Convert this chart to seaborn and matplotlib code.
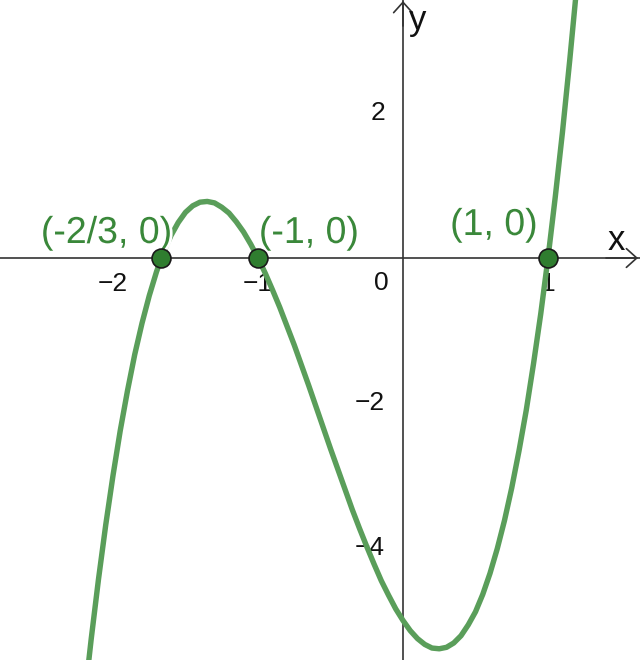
import numpy as np
import pandas as pd
import matplotlib
matplotlib.use("Agg")
import matplotlib.pyplot as plt
import matplotlib.patheffects as pe
import seaborn as sns

# ---- data ----
curve_x = [-2.20, -2.15, -2.10, -2.05, -2.00, -1.95, -1.90, -1.85, -1.80, -1.75,
           -1.70, -1.65, -1.60, -1.55, -1.50, -1.45, -1.40, -1.35, -1.30, -1.25,
           -1.20, -1.15, -1.10, -1.05, -1.00, -0.95, -0.90, -0.85, -0.80, -0.75,
           -0.70, -0.65, -0.60, -0.55, -0.50, -0.45, -0.40, -0.35, -0.30, -0.25,
           -0.20, -0.15, -0.10, -0.05, 0.00, 0.05, 0.10, 0.15, 0.20, 0.25,
           0.30, 0.35, 0.40, 0.45, 0.50, 0.55, 0.60, 0.65, 0.70, 0.75,
           0.80, 0.85, 0.90, 0.95, 1.00, 1.05, 1.10, 1.15, 1.20]
curve_y = [-6.14, -5.25, -4.43, -3.68, -3.00, -2.38, -1.83, -1.33, -0.90, -0.52,
           -0.19, 0.09, 0.31, 0.49, 0.63, 0.72, 0.77, 0.78, 0.76, 0.70,
           0.62, 0.50, 0.36, 0.19, 0.00, -0.21, -0.44, -0.68, -0.94, -1.20,
           -1.48, -1.76, -2.05, -2.34, -2.63, -2.91, -3.19, -3.47, -3.73, -3.98,
           -4.22, -4.45, -4.65, -4.84, -5.00, -5.14, -5.25, -5.33, -5.38, -5.39,
           -5.37, -5.31, -5.21, -5.06, -4.88, -4.64, -4.35, -4.01, -3.62, -3.17,
           -2.66, -2.10, -1.46, -0.77, 0.00, 0.84, 1.74, 2.73, 3.78]

point_x = [-5/3, -1.0, 1.0]
point_y = [0.0, 0.0, 0.0]
point_labels = ["(-2/3, 0)", "(-1, 0)", "(1, 0)"]
label_x = [-2.044, -0.648, 0.628]
label_y = [0.207, 0.207, 0.317]

xtick_vals = [-2, -1, 1]
xtick_labels = ["\u22122", "\u22121", "1"]
ytick_vals = [-4, -2, 2]
ytick_labels = ["\u22124", "\u22122", "2"]

# ---- style ----
sns.set_style("white")
plt.rcParams["font.family"] = ["Liberation Sans", "DejaVu Sans"]

curve_color = "#5a9e5a"
point_color = "#2f7d2f"
text_color = "#3a883a"
axis_color = "#333333"

fig = plt.figure(figsize=(6.4, 6.6), dpi=100)
ax = fig.add_axes([0, 0, 1, 1])

xmin, xmax = -403 / 145, (640 - 403) / 145
ymin, ymax = -(660 - 258) / 72.5, 258 / 72.5
ax.set_xlim(xmin, xmax)
ax.set_ylim(ymin, ymax)

df = pd.DataFrame({"x": curve_x, "y": curve_y})
sns.lineplot(data=df, x="x", y="y", sort=False, ax=ax, color=curve_color,
             linewidth=3.9, zorder=3, solid_capstyle="butt", solid_joinstyle="round")

pts = pd.DataFrame({"x": point_x, "y": point_y})
sns.scatterplot(data=pts, x="x", y="y", ax=ax, s=185, color=point_color,
                edgecolor="#1a1a1a", linewidth=1.2, zorder=5)

# axes through origin
for side in ["top", "right"]:
    ax.spines[side].set_visible(False)
ax.spines["left"].set_position(("data", 0))
ax.spines["bottom"].set_position(("data", 0))
for side in ["left", "bottom"]:
    ax.spines[side].set_color(axis_color)
    ax.spines[side].set_linewidth(1.2)
    ax.spines[side].set_zorder(1)

ax.set_xticks(xtick_vals)
ax.set_xticklabels(xtick_labels)
ax.set_yticks(ytick_vals)
ax.set_yticklabels(ytick_labels)
ax.tick_params(axis="x", direction="out", length=4, width=1.2, color=axis_color,
               labelsize=19, pad=6, labelcolor="#111111")
ax.tick_params(axis="y", direction="out", length=4, width=1.2, color=axis_color,
               labelsize=19, pad=9, labelcolor="#111111")
for lab in ax.get_yticklabels():
    lab.set_verticalalignment("center")
ax.set_xlabel("")
ax.set_ylabel("")

# origin label
ax.text(-0.152, -0.44, "0", fontsize=19, color="#111111", ha="center", va="baseline")

# arrow heads
arrow_style = "->,head_length=0.5,head_width=0.45"
ax.annotate("", xy=(1.621, 0), xytext=(1.4, 0),
            arrowprops=dict(arrowstyle=arrow_style, color=axis_color, lw=1.2,
                            shrinkA=0, shrinkB=0, mutation_scale=15), zorder=1)
ax.annotate("", xy=(0, 3.545), xytext=(0, 3.2),
            arrowprops=dict(arrowstyle=arrow_style, color=axis_color, lw=1.2,
                            shrinkA=0, shrinkB=0, mutation_scale=15), zorder=1)

# axis names
ax.text(1.469, 0.11, "x", fontsize=25, color="#111111", ha="center", va="baseline")
ax.text(0.103, 3.145, "y", fontsize=25, color="#111111", ha="center", va="baseline")

# point labels
for lx, ly, t in zip(label_x, label_y, point_labels):
    ax.text(lx, ly, t, fontsize=27, color=text_color, ha="center", va="baseline",
            zorder=4,
            path_effects=[pe.withStroke(linewidth=4, foreground="white")])

ax.set_facecolor("white")
fig.savefig("out.png", dpi=100, facecolor="white")
